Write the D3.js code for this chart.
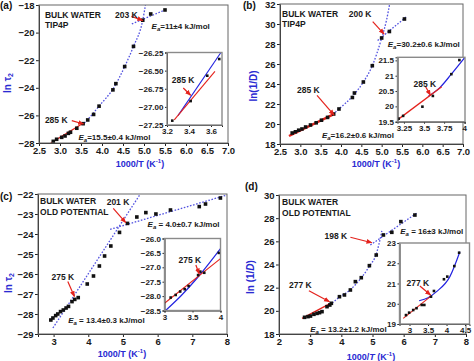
<!DOCTYPE html>
<html><head><meta charset="utf-8">
<script src="https://cdn.jsdelivr.net/npm/d3@7"></script>
<style>
body{margin:0;background:#fff}
svg{display:block;font-family:"Liberation Sans",Arial,sans-serif;font-weight:bold}
</style>
</head><body>
<svg id="c" width="474" height="361"></svg>
<script>
// ---------------- DATA ----------------
// Panel (a): ln tau2 vs 1000/T, TIP4P
const aX = [2.84, 2.92, 3.04, 3.12, 3.20, 3.25, 3.40, 3.55, 3.66, 3.80, 3.93, 4.26, 4.33, 4.54, 4.75, 4.97, 5.16, 5.50];
const aY = [-27.88, -27.73, -27.59, -27.49, -27.30, -27.22, -26.93, -26.60, -26.33, -25.93, -25.33, -24.15, -23.70, -22.46, -21.0, -19.1, -18.65, -18.36];
const aCurveX = [3.58, 3.66, 3.93, 4.30, 4.54, 4.75, 4.97, 5.04];
const aCurveY = [-26.55, -26.3, -25.33, -23.9, -22.46, -21.0, -19.1, -17.9];
const aLineX = [4.71, 5.54], aLineY = [-19.37, -18.31];
const aRedX = [2.78, 3.56], aRedY = [-28.0, -26.55];
const aXTicks = [2.5, 3.0, 3.5, 4.0, 4.5, 5.0, 5.5, 6.0, 6.5, 7.0];
const aYTicks = [-28, -26, -24, -22, -20, -18];
const aInX = [3.248, 3.415, 3.566, 3.675], aInY = [-27.19, -26.92, -26.57, -26.34];
const aInBlueX = [3.30, 3.69], aInBlueY = [-27.12, -26.25];
const aInRedX = [3.266, 3.636], aInRedY = [-27.18, -26.51];
const aInXTicks = [3.2, 3.4, 3.6], aInYTicks = [-27.25, -27.0, -26.75, -26.5, -26.25];

// Panel (b): ln(1/D) vs 1000/T, TIP4P
const bX = [2.80, 2.88, 2.96, 3.04, 3.13, 3.25, 3.39, 3.52, 3.67, 3.82, 3.95, 4.28, 4.33, 4.55, 4.77, 5.00, 5.19, 5.56];
const bY = [19.1, 19.22, 19.38, 19.5, 19.7, 19.9, 20.12, 20.38, 20.66, 21.0, 21.5, 22.65, 23.1, 24.2, 25.83, 28.6, 29.25, 30.5];
const bCurveX = [3.80, 3.95, 4.30, 4.55, 4.77, 5.00, 5.12, 5.21];
const bCurveY = [20.95, 21.5, 22.85, 24.2, 25.83, 28.6, 30.4, 32.3];
const bLineX = [4.90, 5.60], bLineY = [28.35, 30.7];
const bRedX = [2.72, 3.80], bRedY = [18.8, 20.93];
const bXTicks = [2.5, 3.0, 3.5, 4.0, 4.5, 5.0, 5.5, 6.0, 6.5, 7.0];
const bYTicks = [18, 20, 22, 24, 26, 28, 30, 32];
const bInX = [3.185, 3.24, 3.48, 3.61, 3.84, 3.94], bInY = [19.6, 19.69, 19.99, 20.34, 21.05, 21.51];
const bInBlueX = [3.55, 3.70, 3.84, 4.01], bInBlueY = [20.32, 20.62, 21.05, 21.6];
const bInRedX = [3.17, 3.72], bInRedY = [19.56, 20.64];
const bInXTicks = [3.25, 3.5, 3.75, 4], bInYTicks = [19.5, 20, 20.5, 21, 21.5];

// Panel (c): ln tau2 vs 1000/T, old potential
const cX = [2.92, 2.98, 3.06, 3.12, 3.20, 3.28, 3.36, 3.43, 3.53, 3.61, 3.71, 3.97, 4.15, 4.32, 4.47, 4.65, 4.90, 5.13, 5.40, 5.66, 5.95, 6.37, 7.20, 7.38, 7.81];
const cY = [-28.3, -28.2, -28.08, -28.0, -27.88, -27.8, -27.7, -27.62, -27.38, -27.27, -27.18, -26.5, -26.1, -25.6, -25.1, -24.6, -23.92, -23.47, -23.15, -22.93, -23.0, -22.8, -22.63, -22.5, -22.2];
const cLongX = [2.98, 5.50], cLongY = [-28.7, -22.0];
const cShortX = [4.63, 8.0], cShortY = [-23.77, -22.05];
const cXTicks = [3, 4, 5, 6, 7, 8];
const cYTicks = [-29, -28, -27, -26, -25, -24, -23, -22];
const cInX = [3.11, 3.20, 3.28, 3.36, 3.43, 3.60, 3.64, 3.71, 3.97];
const cInY = [-28.05, -27.96, -27.84, -27.76, -27.65, -27.27, -27.15, -27.19, -26.5];
const cInBlueX = [3.02, 3.30, 3.58, 4.00], cInBlueY = [-28.5, -27.98, -27.38, -26.35];
const cInRedX = [3.0, 4.0], cInRedY = [-28.25, -26.7];
const cInXTicks = [3, 3.5, 4], cInYTicks = [-28.5, -28.0, -27.5, -27.0, -26.5, -26.0];

// Panel (d): ln(1/D) vs 1000/T, old potential
const dX = [2.82, 2.93, 3.01, 3.12, 3.22, 3.30, 3.38, 3.54, 3.63, 3.68, 3.94, 4.10, 4.29, 4.45, 4.64, 4.90, 5.12, 5.35, 5.62, 5.91, 6.36];
const dY = [19.44, 19.5, 19.55, 19.7, 19.78, 19.84, 19.93, 20.36, 20.5, 20.65, 21.22, 21.37, 21.8, 22.52, 22.86, 23.9, 24.82, 26.55, 26.78, 27.7, 28.27];
const dCurveX = [3.55, 3.90, 4.30, 4.64, 4.90, 5.12, 5.22, 5.30];
const dCurveY = [20.3, 21.1, 21.85, 22.85, 23.85, 24.9, 25.9, 26.9];
const dLineX = [4.93, 6.41], dLineY = [25.68, 28.42];
const dRedX = [2.74, 3.65], dRedY = [19.35, 20.65];
const dXTicks = [2, 3, 4, 5, 6, 7, 8];
const dYTicks = [18, 20, 22, 24, 26, 28, 30];
const dInX = [2.905, 2.99, 3.10, 3.19, 3.33, 3.40, 3.58, 3.66, 3.93, 4.02, 4.21, 4.34];
const dInY = [19.44, 19.56, 19.69, 19.78, 19.94, 19.94, 20.35, 20.63, 21.21, 21.34, 21.86, 22.52];
const dInBlueX = [3.26, 3.50, 3.73, 4.09, 4.36], dInBlueY = [20.15, 20.3, 20.6, 21.34, 22.57];
const dInRedX = [2.83, 3.58], dInRedY = [19.28, 20.38];
const dInXTicks = [3, 3.5, 4, 4.5], dInYTicks = [19, 20, 21, 22, 23];

// ---------------- DRAWING ----------------
const svg = d3.select("#c");
const BLUE = "#2a2ad2", DOT = "#5252e0", RED = "#e4221c";
let clipN = 0;

svg.append("defs").append("marker")
  .attr("id", "arr").attr("viewBox", "0 0 10 10").attr("refX", 9).attr("refY", 5)
  .attr("markerWidth", 6).attr("markerHeight", 6).attr("markerUnits", "userSpaceOnUse")
  .attr("orient", "auto")
  .append("path").attr("d", "M0,1 L10,5 L0,9 Z").attr("fill", RED);

function plot(o) {
  const x = d3.scaleLinear(o.xd, o.xr), y = d3.scaleLinear(o.yd, o.yr);
  const g = svg.append("g");
  const id = "clip" + (clipN++);
  g.append("clipPath").attr("id", id).append("rect")
    .attr("x", o.xr[0]).attr("y", o.yr[1])
    .attr("width", o.xr[1] - o.xr[0]).attr("height", o.yr[0] - o.yr[1]);
  if (o.inset) {
    g.append("rect").attr("x", o.xr[0]).attr("y", o.yr[1])
      .attr("width", o.xr[1] - o.xr[0]).attr("height", o.yr[0] - o.yr[1])
      .attr("fill", "#fff");
  }
  const pg = g.append("g").attr("clip-path", `url(#${id})`);
  (o.lines || []).forEach(l => {
    pg.append("path").datum(d3.zip(l.x, l.y))
      .attr("d", d3.line().x(d => x(d[0])).y(d => y(d[1])).curve(l.curve || d3.curveLinear))
      .attr("fill", "none").attr("stroke", l.color).attr("stroke-width", l.w || 1.2)
      .attr("stroke-dasharray", l.dash || null);
  });
  const s = o.ms || 3.6;
  g.append("g").selectAll("rect").data(d3.zip(o.px, o.py)).join("rect")
    .attr("x", d => x(d[0]) - s / 2).attr("y", d => y(d[1]) - s / 2)
    .attr("width", s).attr("height", s).attr("fill", "#111");
  (o.linesTop || []).forEach(l => {
    pg.append("path").datum(d3.zip(l.x, l.y))
      .attr("d", d3.line().x(d => x(d[0])).y(d => y(d[1])).curve(l.curve || d3.curveLinear))
      .attr("fill", "none").attr("stroke", l.color).attr("stroke-width", l.w || 1.2);
  });
  const fs = o.fs || 9.5;
  const xa = g.append("g").attr("transform", `translate(0,${o.yr[0]})`)
    .call(d3.axisBottom(x).tickValues(o.xt).tickFormat(o.xf).tickSize(o.inset ? 2 : 3).tickPadding(1.5));
  const ya = g.append("g").attr("transform", `translate(${o.xr[0]},0)`)
    .call(d3.axisLeft(y).tickValues(o.yt).tickFormat(o.yf).tickSize(o.inset ? 2 : 3).tickPadding(1.5));
  [xa, ya].forEach(a => {
    a.selectAll("text").attr("font-size", fs).attr("font-family", '"Liberation Sans",Arial,sans-serif')
      .attr("font-weight", "bold").attr("fill", "#1a1a1a");
    a.select(".domain").attr("stroke", "#222");
    a.selectAll(".tick line").attr("stroke", "#222");
  });
  g.append("rect").attr("x", o.xr[0]).attr("y", o.yr[1])
    .attr("width", o.xr[1] - o.xr[0]).attr("height", o.yr[0] - o.yr[1])
    .attr("fill", "none").attr("stroke", o.inset ? "#8a8a8a" : "#666").attr("stroke-width", o.inset ? 1.4 : 1);
  (o.arrows || []).forEach(a => {
    g.append("line").attr("x1", x(a[0])).attr("y1", y(a[1])).attr("x2", x(a[2])).attr("y2", y(a[3]))
      .attr("stroke", RED).attr("stroke-width", 1.2).attr("marker-end", "url(#arr)");
  });
  (o.texts || []).forEach(t => {
    g.append("text").attr("x", x(t.x)).attr("y", y(t.y)).attr("font-size", t.fs || 8.5)
      .attr("fill", "#1a1a1a").text(t.t);
  });
  (o.ea || []).forEach(t => {
    const e = g.append("text").attr("x", x(t.x)).attr("y", y(t.y)).attr("font-size", 8).attr("fill", "#1a1a1a");
    e.append("tspan").attr("font-style", "italic").text("E");
    e.append("tspan").attr("font-size", 6).attr("dy", 2).attr("font-style", "italic").text("a");
    e.append("tspan").attr("dy", -2).text(t.t);
  });
  return { x, y, g };
}

function xTitle(cx, by, italicT) {
  const t = svg.append("text").attr("x", cx).attr("y", by).attr("text-anchor", "middle")
    .attr("font-size", 9).attr("fill", BLUE);
  t.append("tspan").text("1000/");
  t.append("tspan").attr("font-style", italicT ? "italic" : null).text("T");
  t.append("tspan").text(" (K");
  t.append("tspan").attr("font-size", 6).attr("dy", -4).text("-1");
  t.append("tspan").attr("dy", 4).text(")");
}
function yTitleTau(cx, cy) {
  const t = svg.append("text").attr("transform", `translate(${cx},${cy}) rotate(-90)`)
    .attr("text-anchor", "middle").attr("font-size", 10).attr("fill", BLUE);
  t.append("tspan").text("ln \u03C4");
  t.append("tspan").attr("font-size", 7).attr("dy", 2).text("2");
}
function yTitleD(cx, cy, italicD, space) {
  const t = svg.append("text").attr("transform", `translate(${cx},${cy}) rotate(-90)`)
    .attr("text-anchor", "middle").attr("font-size", 10).attr("fill", BLUE);
  t.append("tspan").text(space ? "ln (1/" : "ln(1/");
  t.append("tspan").attr("font-style", italicD ? "italic" : null).text("D");
  t.append("tspan").text(")");
}
function tag(x, y, s) {
  svg.append("text").attr("x", x).attr("y", y).attr("font-size", 10).attr("fill", "#111").text(s);
}

const f1 = d3.format(".1f"), f2 = d3.format(".2f"), fg = d3.format("");
const dotted = (x, y, curve) => ({ x, y, color: DOT, dash: "1.6,1.6", w: 1.3, curve });

// Panel (a)
plot({
  xd: [2.5, 7], xr: [39, 228], yd: [-28, -18], yr: [143, 5],
  xt: aXTicks, xf: f1, yt: aYTicks, yf: fg,
  px: aX, py: aY,
  lines: [dotted(aCurveX, aCurveY, d3.curveMonotoneX), dotted(aLineX, aLineY)],
  linesTop: [{ x: aRedX, y: aRedY, color: RED, w: 1.3 }],
  arrows: [[4.70, -18.82, 4.97, -19.12], [3.28, -26.38, 3.56, -26.62]],
  texts: [{ t: "BULK WATER", x: 2.64, y: -18.96 }, { t: "TIP4P", x: 2.64, y: -19.69 },
          { t: "203 K", x: 4.31, y: -18.96 }, { t: "285 K", x: 2.64, y: -26.53 }],
  ea: [{ t: "=11\u00B14 kJ/mol", x: 5.18, y: -19.74 }, { t: "=15.5\u00B10.4 kJ/mol", x: 3.44, y: -27.78 }]
});
plot({
  inset: true, fs: 8,
  xd: [3.2, 3.7], xr: [167, 222], yd: [-27.25, -26.25], yr: [125, 52.5],
  xt: aInXTicks, xf: f1, yt: aInYTicks, yf: f2,
  px: aInX, py: aInY, ms: 2.6,
  lines: [{ x: aInBlueX, y: aInBlueY, color: "#2323e0", w: 1.1 }, { x: aInRedX, y: aInRedY, color: RED, w: 1.1 }],
  arrows: [[3.348, -26.74, 3.415, -26.84]],
  texts: [{ t: "285 K", x: 3.243, y: -26.67 }]
});
tag(0, 9, "(a)");
yTitleTau(11, 83);
xTitle(140, 167, false);

// Panel (b)
plot({
  xd: [2.5, 7], xr: [280, 463], yd: [18, 32], yr: [144, 4],
  xt: bXTicks, xf: f1, yt: bYTicks, yf: fg,
  px: bX, py: bY,
  lines: [dotted(bCurveX, bCurveY, d3.curveMonotoneX), dotted(bLineX, bLineY)],
  linesTop: [{ x: bRedX, y: bRedY, color: RED, w: 2.4 }],
  arrows: [[4.78, 30.24, 5.06, 28.99], [3.41, 22.86, 3.83, 20.88]],
  texts: [{ t: "BULK WATER", x: 2.55, y: 30.7 }, { t: "TIP4P", x: 2.55, y: 29.72 },
          { t: "200 K", x: 4.19, y: 30.7 }, { t: "285 K", x: 2.92, y: 23.1 }],
  ea: [{ t: "=30.2\u00B10.6 kJ/mol", x: 5.15, y: 27.66 }, { t: "=16.2\u00B10.6 kJ/mol", x: 3.53, y: 18.56 }]
});
plot({
  inset: true, fs: 8,
  xd: [3.17, 4.01], xr: [397.5, 465], yd: [19.5, 21.6], yr: [121.7, 57.3],
  xt: bInXTicks, xf: fg, yt: bInYTicks, yf: fg,
  px: bInX, py: bInY, ms: 2.6,
  lines: [{ x: bInBlueX, y: bInBlueY, color: "#2323e0", w: 1.2, curve: d3.curveMonotoneX }, { x: bInRedX, y: bInRedY, color: RED, w: 1.3 }],
  arrows: [[3.52, 20.64, 3.58, 20.36]],
  texts: [{ t: "285 K", x: 3.37, y: 20.64 }]
});
tag(243, 9, "(b)");
yTitleD(257, 86, false, false);
xTitle(376, 167, false);

// Panel (c)
plot({
  xd: [2.55, 8], xr: [38, 227], yd: [-29, -22], yr: [334, 194],
  xt: cXTicks, xf: fg, yt: cYTicks, yf: fg,
  px: cX, py: cY,
  lines: [dotted(cLongX, cLongY), dotted(cShortX, cShortY)],
  arrows: [[4.72, -22.72, 5.08, -23.43], [3.41, -26.38, 3.60, -27.13]],
  texts: [{ t: "BULK WATER", x: 2.61, y: -22.5 }, { t: "OLD POTENTIAL", x: 2.61, y: -23.05 },
          { t: "201 K", x: 4.53, y: -22.55 }, { t: "275 K", x: 2.94, y: -26.3 }],
  ea: [{ t: " = 4.0\u00B10.7 kJ/mol", x: 5.71, y: -23.63 }, { t: " = 13.4\u00B10.3 kJ/mol", x: 3.42, y: -28.47 }]
});
plot({
  inset: true, fs: 8,
  xd: [3, 4], xr: [164.5, 220.5], yd: [-28.5, -26], yr: [310.5, 238.5],
  xt: cInXTicks, xf: fg, yt: cInYTicks, yf: f1,
  px: cInX, py: cInY, ms: 2.6,
  lines: [{ x: cInBlueX, y: cInBlueY, color: "#2323e0", w: 1.2, curve: d3.curveMonotoneX }, { x: cInRedX, y: cInRedY, color: RED, w: 1.1 }],
  arrows: [[3.56, -26.92, 3.62, -27.23]],
  texts: [{ t: "275 K", x: 3.25, y: -26.84 }]
});
tag(0, 200, "(c)");
yTitleTau(12, 283);
xTitle(122, 357, false);

// Panel (d)
plot({
  xd: [2, 8], xr: [279, 466], yd: [18, 30], yr: [334, 195],
  xt: dXTicks, xf: fg, yt: dYTicks, yf: fg,
  px: dX, py: dY,
  lines: [dotted(dCurveX, dCurveY, d3.curveMonotoneX), dotted(dLineX, dLineY)],
  linesTop: [{ x: dRedX, y: dRedY, color: RED, w: 1.3 }],
  arrows: [[4.29, 26.35, 4.98, 25.88], [2.96, 21.74, 3.62, 20.79]],
  texts: [{ t: "BULK WATER", x: 2.1, y: 29.14 }, { t: "OLD POTENTIAL", x: 2.1, y: 28.19 },
          { t: "198 K", x: 3.46, y: 26.17 }, { t: "277 K", x: 2.32, y: 21.94 }],
  ea: [{ t: " = 16\u00B13 kJ/mol", x: 5.89, y: 26.63 }, { t: " = 13.2\u00B11.2 kJ/mol", x: 3.0, y: 18.17 }]
});
plot({
  inset: true, fs: 8,
  xd: [2.73, 4.62], xr: [399.5, 469.5], yd: [19, 23], yr: [324, 243],
  xt: dInXTicks, xf: fg, yt: dInYTicks, yf: fg,
  px: dInX, py: dInY, ms: 2.6,
  lines: [{ x: dInBlueX, y: dInBlueY, color: "#2323e0", w: 1.2, curve: d3.curveMonotoneX }, { x: dInRedX, y: dInRedY, color: RED, w: 1.1 }],
  arrows: [[3.28, 20.88, 3.57, 20.43]],
  texts: [{ t: "277 K", x: 2.92, y: 20.88 }]
});
tag(245, 190, "(d)");
yTitleD(254, 277, true, true);
xTitle(371, 360, true);
</script>
</body></html>
